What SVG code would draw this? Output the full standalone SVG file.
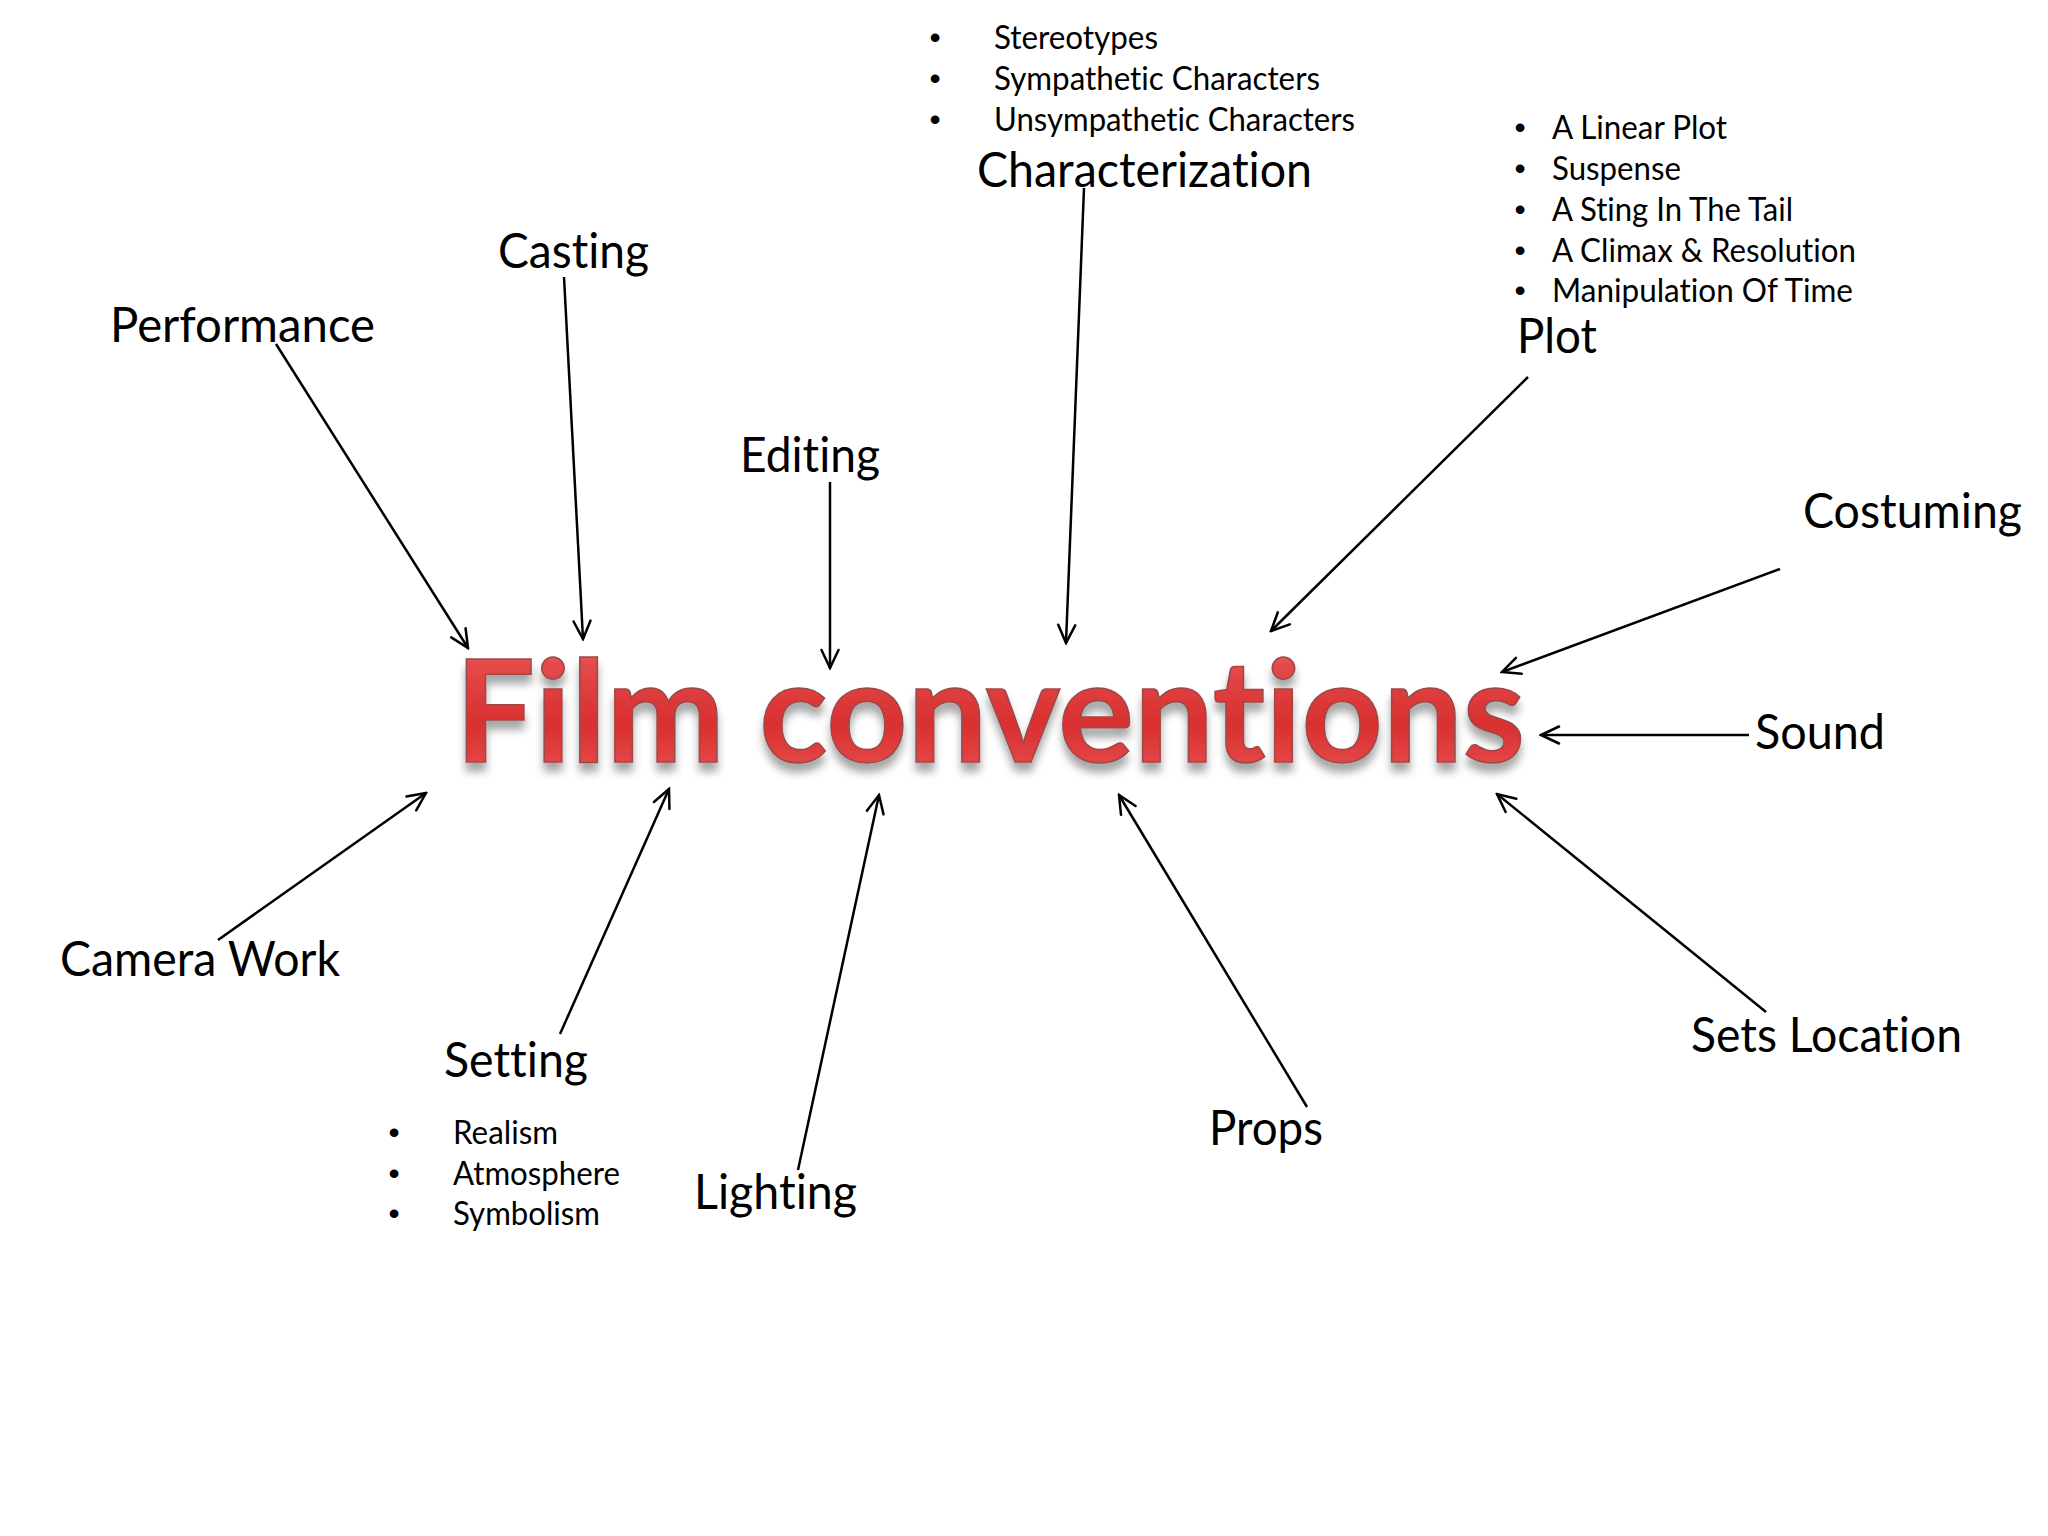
<svg xmlns="http://www.w3.org/2000/svg" width="2048" height="1536" viewBox="0 0 2048 1536">
  <defs>
    <style>
      text { font-variant-ligatures: none; font-feature-settings: "liga" 0, "clig" 0; }
      .lbl { font-family: Lato, "Open Sans", "Liberation Sans", sans-serif; font-size: 48px; fill: #000; }
      .itm { font-family: Lato, "Open Sans", "Liberation Sans", sans-serif; font-size: 32px; fill: #000; }
      .bul { font-family: "Liberation Sans", sans-serif; font-size: 32px; fill: #000; text-anchor: middle; }
      .con line { stroke: #000; stroke-width: 2.5; fill: none; marker-end: url(#arr); }
      .title { font-family: Lato, "Open Sans", "Liberation Sans", sans-serif; font-weight: bold; font-size: 142px; fill: url(#red); stroke: #9b4a4a; stroke-width: 1.6; }
    </style>
    <marker id="arr" viewBox="0 0 22 22" refX="20" refY="11" markerWidth="22" markerHeight="22" markerUnits="userSpaceOnUse" orient="auto">
      <path d="M2,2.5 L20,11 L2,19.5" fill="none" stroke="#000" stroke-width="2.5" stroke-linecap="round" stroke-linejoin="miter"/>
    </marker>
    <linearGradient id="red" x1="0" y1="0" x2="0" y2="1">
      <stop offset="0" stop-color="#f58a8a"/>
      <stop offset="0.25" stop-color="#e44a4a"/>
      <stop offset="0.6" stop-color="#d92f2f"/>
      <stop offset="0.85" stop-color="#e54848"/>
      <stop offset="1" stop-color="#c92a2a"/>
    </linearGradient>
    <filter id="shadow" x="-5%" y="-20%" width="110%" height="150%">
      <feGaussianBlur in="SourceAlpha" stdDeviation="4" result="b"/>
      <feOffset in="b" dx="0" dy="9" result="o"/>
      <feFlood flood-color="#000" flood-opacity="0.35"/>
      <feComposite in2="o" operator="in" result="s"/>
      <feMerge>
        <feMergeNode in="s"/>
        <feMergeNode in="SourceGraphic"/>
      </feMerge>
    </filter>
  </defs>
  <rect width="2048" height="1536" fill="#fff"/>

  <g id="film-conventions">
    <text class="title" x="455" y="762" textLength="1070" lengthAdjust="spacingAndGlyphs" filter="url(#shadow)">Film conventions</text>
  </g>

  <g id="performance"><text class="lbl" x="110" y="342" textLength="265" lengthAdjust="spacingAndGlyphs">Performance</text></g>
  <g id="casting"><text class="lbl" x="498" y="268" textLength="151" lengthAdjust="spacingAndGlyphs">Casting</text></g>
  <g id="editing"><text class="lbl" x="740" y="472" textLength="140" lengthAdjust="spacingAndGlyphs">Editing</text></g>

  <g id="characterization">
    <text class="bul" x="935" y="48">•</text>
    <text class="bul" x="935" y="89">•</text>
    <text class="bul" x="935" y="130">•</text>
    <text class="itm" x="994" y="49" textLength="164" lengthAdjust="spacingAndGlyphs">Stereotypes</text>
    <text class="itm" x="994" y="90" textLength="326" lengthAdjust="spacingAndGlyphs">Sympathetic Characters</text>
    <text class="itm" x="994" y="131" textLength="361" lengthAdjust="spacingAndGlyphs">Unsympathetic Characters</text>
    <text class="lbl" x="977" y="187" textLength="335" lengthAdjust="spacingAndGlyphs">Characterization</text>
  </g>

  <g id="plot">
    <text class="bul" x="1520" y="138">•</text>
    <text class="bul" x="1520" y="179">•</text>
    <text class="bul" x="1520" y="220">•</text>
    <text class="bul" x="1520" y="261">•</text>
    <text class="bul" x="1520" y="301">•</text>
    <text class="itm" x="1552" y="139" textLength="175" lengthAdjust="spacingAndGlyphs">A Linear Plot</text>
    <text class="itm" x="1552" y="180" textLength="129" lengthAdjust="spacingAndGlyphs">Suspense</text>
    <text class="itm" x="1552" y="221" textLength="241" lengthAdjust="spacingAndGlyphs">A Sting In The Tail</text>
    <text class="itm" x="1552" y="262" textLength="304" lengthAdjust="spacingAndGlyphs">A Climax &amp; Resolution</text>
    <text class="itm" x="1552" y="302" textLength="301" lengthAdjust="spacingAndGlyphs">Manipulation Of Time</text>
    <text class="lbl" x="1517" y="353" textLength="80" lengthAdjust="spacingAndGlyphs">Plot</text>
  </g>

  <g id="costuming"><text class="lbl" x="1803" y="528" textLength="219" lengthAdjust="spacingAndGlyphs">Costuming</text></g>
  <g id="sound"><text class="lbl" x="1755" y="749" textLength="130" lengthAdjust="spacingAndGlyphs">Sound</text></g>
  <g id="sets-location"><text class="lbl" x="1691" y="1052" textLength="271" lengthAdjust="spacingAndGlyphs">Sets Location</text></g>
  <g id="props"><text class="lbl" x="1209" y="1145" textLength="114" lengthAdjust="spacingAndGlyphs">Props</text></g>
  <g id="lighting"><text class="lbl" x="694" y="1209" textLength="163" lengthAdjust="spacingAndGlyphs">Lighting</text></g>

  <g id="setting">
    <text class="lbl" x="444" y="1077" textLength="144" lengthAdjust="spacingAndGlyphs">Setting</text>
    <text class="bul" x="394" y="1143">•</text>
    <text class="bul" x="394" y="1184">•</text>
    <text class="bul" x="394" y="1224">•</text>
    <text class="itm" x="453" y="1144" textLength="105" lengthAdjust="spacingAndGlyphs">Realism</text>
    <text class="itm" x="453" y="1185" textLength="167" lengthAdjust="spacingAndGlyphs">Atmosphere</text>
    <text class="itm" x="453" y="1225" textLength="147" lengthAdjust="spacingAndGlyphs">Symbolism</text>
  </g>

  <g id="camera-work"><text class="lbl" x="60" y="976" textLength="280" lengthAdjust="spacingAndGlyphs">Camera Work</text></g>

  <g id="connectors" class="con">
    <line x1="276" y1="344" x2="468" y2="648"/>
    <line x1="564" y1="277" x2="583" y2="639"/>
    <line x1="830" y1="482" x2="830" y2="668"/>
    <line x1="1084" y1="188" x2="1066" y2="643"/>
    <line x1="1528" y1="377" x2="1271" y2="631"/>
    <line x1="1780" y1="569" x2="1502" y2="672"/>
    <line x1="1749" y1="735" x2="1541" y2="735"/>
    <line x1="1766" y1="1012" x2="1497" y2="794"/>
    <line x1="1307" y1="1107" x2="1119" y2="795"/>
    <line x1="798" y1="1170" x2="879" y2="795"/>
    <line x1="560" y1="1034" x2="669" y2="789"/>
    <line x1="218" y1="940" x2="426" y2="793"/>
  </g>
</svg>
